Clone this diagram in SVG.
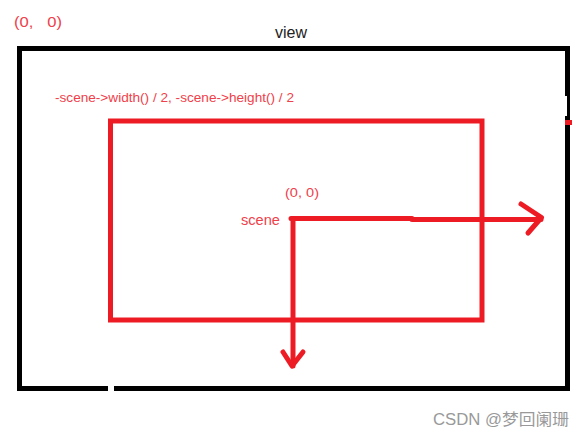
<svg xmlns="http://www.w3.org/2000/svg" width="583" height="431" viewBox="0 0 583 431">
<style>
.red{fill:none;stroke:#ED1C24;stroke-width:5}
.axis{fill:none;stroke:#ED1C24;stroke-width:5;stroke-linecap:round;stroke-linejoin:round}
.lbl{font-family:"Liberation Sans",Arial,sans-serif;fill:#F0404A}
</style>
<rect width="583" height="431" fill="#fff"/>
<g id="view">
<rect x="19.5" y="48.5" width="548" height="340" fill="none" stroke="#000" stroke-width="5"/>
<rect x="108" y="385" width="6" height="7" fill="#fff"/>
<rect x="565" y="96" width="2" height="20" fill="#fff"/>
<rect x="565" y="120" width="7" height="5" fill="#ED1C24"/>
<text x="291" y="38" font-family="Liberation Sans,Arial,sans-serif" font-size="16" fill="#222" text-anchor="middle">view</text>
</g>
<g id="scene">
<rect class="red" x="110.5" y="121" width="371.5" height="199"/>
</g>
<g id="connectors">
<path class="axis" d="M291 218.5 H412 M412 219.5 H541"/>
<path class="axis" d="M521 204 L541.5 217.5 L528 233"/>
<path class="axis" d="M293 221 V366"/>
<path class="axis" d="M283 352 L292 366 L303 352"/>
</g>
<g id="labels">
<text class="lbl" x="14" y="26.5" font-size="14" textLength="48" lengthAdjust="spacingAndGlyphs">(0,&#160;&#160;&#160;0)</text>
<text class="lbl" x="55" y="101.5" font-size="12.5" textLength="239" lengthAdjust="spacingAndGlyphs">-scene-&gt;width() / 2, -scene-&gt;height() / 2</text>
<text class="lbl" x="285" y="196.5" font-size="13" textLength="34" lengthAdjust="spacingAndGlyphs">(0, 0)</text>
<text class="lbl" x="241" y="225" font-size="15" textLength="39" lengthAdjust="spacingAndGlyphs">scene</text>
</g>
<text x="433" y="425" font-family="Liberation Sans,'Noto Sans CJK SC',sans-serif" font-size="16" fill="#999" textLength="136" lengthAdjust="spacingAndGlyphs">CSDN @梦回阑珊</text>
</svg>
